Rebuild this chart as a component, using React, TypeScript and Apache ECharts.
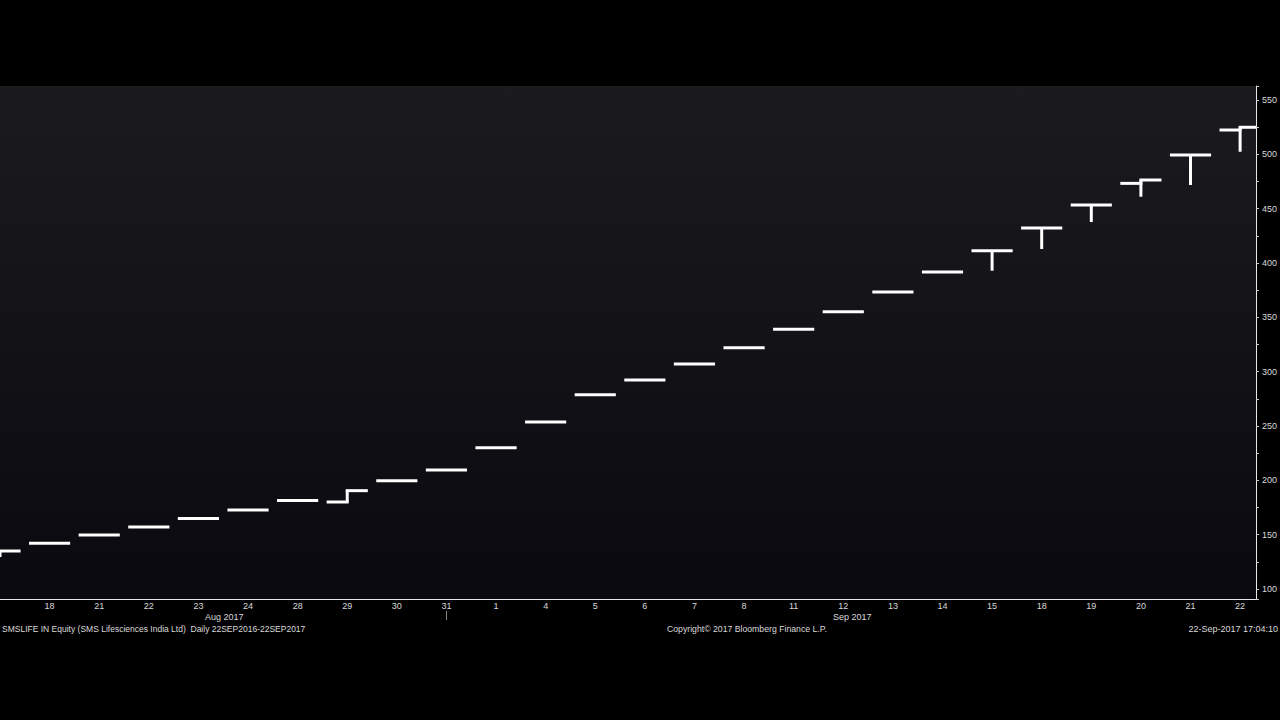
import React, { useEffect, useRef } from "react";
import * as echarts from "echarts";

const dayLabels = ["17", "18", "21", "22", "23", "24", "28", "29", "30", "31", "1", "4", "5", "6", "7", "8", "11", "12", "13", "14", "15", "18", "19", "20", "21", "22"];
const opens = [135.0, 142.1, 149.7, 157.1, 164.9, 172.7, 181.4, 180.1, 199.7, 209.5, 230.0, 253.7, 278.8, 292.3, 307.1, 322.1, 339.0, 355.2, 373.3, 391.7, 411.3, 432.2, 453.4, 473.3, 499.4, 522.4];
const closes = [135.0, 142.1, 149.7, 157.1, 164.9, 172.7, 181.4, 190.5, 199.7, 209.5, 230.0, 253.7, 278.8, 292.3, 307.1, 322.1, 339.0, 355.2, 373.3, 391.7, 411.3, 432.2, 453.4, 476.4, 499.4, 524.9];
const lows = [129.5, 142.1, 149.7, 157.1, 164.9, 172.7, 181.4, 180.1, 199.7, 209.5, 230.0, 253.7, 278.8, 292.3, 307.1, 322.1, 339.0, 355.2, 373.3, 391.7, 392.9, 412.9, 437.7, 461.0, 471.8, 502.4];
const highs = [135.0, 142.1, 149.7, 157.1, 164.9, 172.7, 181.4, 190.5, 199.7, 209.5, 230.0, 253.7, 278.8, 292.3, 307.1, 322.1, 339.0, 355.2, 373.3, 391.7, 411.3, 432.2, 453.4, 476.4, 499.4, 524.9];
const yTickLabels = [100, 150, 200, 250, 300, 350, 400, 450, 500, 550];

const FONT = "'Liberation Sans', Arial, sans-serif";
const TXT = "#dadada";

export default function App() {
  const ref = useRef<HTMLDivElement>(null);
  useEffect(() => {
    if (!ref.current) return;
    const chart = echarts.init(ref.current, undefined, { renderer: "svg" });
    const data = dayLabels.map((_, i) => [i, opens[i], closes[i], lows[i], highs[i]]);
    const xIdx = dayLabels.map((_, i) => i).slice(1);
    chart.setOption({
      animation: false,
      backgroundColor: "#000000",
      grid: {
        left: 0,
        right: 23,
        top: 86,
        bottom: 121,
        show: true,
        borderWidth: 0,
        backgroundColor: new echarts.graphic.LinearGradient(0, 0, 0, 1, [
          { offset: 0, color: "#1b1b1f" },
          { offset: 1, color: "#09090f" },
        ]),
      },
      xAxis: {
        type: "value",
        min: 0,
        max: 25.32,
        position: "bottom",
        axisLine: { show: true, onZero: false, lineStyle: { color: "#e8e8e8", width: 1 } },
        axisTick: { show: false },
        splitLine: { show: false },
        axisLabel: {
          customValues: xIdx,
          formatter: (v: number) => dayLabels[Math.round(v)] ?? "",
          color: TXT,
          fontSize: 9,
          fontFamily: FONT,
          margin: 2,
        },
      },
      yAxis: {
        type: "value",
        position: "right",
        min: 90.8,
        max: 562.9,
        minInterval: 25,
        maxInterval: 25,
        axisLine: { show: true, onZero: false, lineStyle: { color: "#e8e8e8", width: 1 } },
        axisTick: { show: true, length: 3, lineStyle: { color: "#cfcfcf" } },
        splitLine: { show: false },
        axisLabel: {
          customValues: yTickLabels,
          color: TXT,
          fontSize: 9,
          fontFamily: FONT,
          margin: 6,
        },
      },
      graphic: [
        { type: "text", left: 205, top: 612, style: { text: "Aug 2017", fill: TXT, font: `9px ${FONT}` } },
        { type: "text", left: 833, top: 612, style: { text: "Sep 2017", fill: TXT, font: `9px ${FONT}` } },
        { type: "rect", shape: { x: 446, y: 611, width: 1, height: 9 }, style: { fill: "#8a8a8a" } },
        { type: "text", left: 2, top: 624, style: { text: "SMSLIFE IN Equity (SMS Lifesciences India Ltd)  Daily 22SEP2016-22SEP2017", fill: TXT, font: `8.5px ${FONT}` } },
        { type: "text", left: 667, top: 624, style: { text: "Copyright\u00a9 2017 Bloomberg Finance L.P.", fill: TXT, font: `8.7px ${FONT}` } },
        { type: "text", right: 2, top: 624, style: { text: "22-Sep-2017 17:04:10", fill: TXT, font: `9px ${FONT}` } },
      ],
      series: [
        {
          type: "custom",
          clip: true,
          data,
          encode: { x: 0, y: [1, 2, 3, 4] },
          renderItem: (params: any, api: any) => {
            const x = api.value(0);
            const pO = api.coord([x, api.value(1)]);
            const pC = api.coord([x, api.value(2)]);
            const pL = api.coord([x, api.value(3)]);
            const pH = api.coord([x, api.value(4)]);
            const band = api.size([1, 0])[0];
            const half = band * 0.415;
            const t = 3;
            const st = { fill: "#ffffff" };
            const children: any[] = [];
            if (Math.abs(pO[1] - pC[1]) < 0.5) {
              children.push({ type: "rect", shape: { x: pO[0] - half, y: pO[1] - t / 2, width: half * 2, height: t }, style: st });
            } else {
              children.push({ type: "rect", shape: { x: pO[0] - half, y: pO[1] - t / 2, width: half + t / 2, height: t }, style: st });
              children.push({ type: "rect", shape: { x: pC[0] - t / 2, y: pC[1] - t / 2, width: half + t / 2, height: t }, style: st });
            }
            if (Math.abs(pL[1] - pH[1]) > 0.5) {
              children.push({ type: "rect", shape: { x: pH[0] - t / 2, y: pH[1], width: t, height: pL[1] - pH[1] }, style: st });
            }
            return { type: "group", children };
          },
        },
      ],
    });
    return () => chart.dispose();
  }, []);
  return <div ref={ref} style={{ position: "fixed", left: 0, top: 0, width: 1280, height: 720 }} />;
}
